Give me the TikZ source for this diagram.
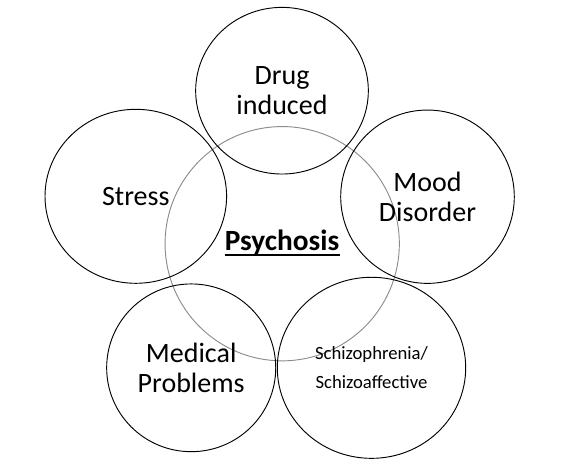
\documentclass[tikz,border=0pt]{standalone}
\usepackage{fontspec}
\setmainfont{Carlito}
\usetikzlibrary{shapes.geometric}
\begin{document}
\begin{tikzpicture}[x=0.75pt,y=-0.75pt,
    ring/.style={draw, ellipse, line width=0.7pt, inner sep=0pt, align=center,
        font=\fontsize{21}{22.5}\selectfont}]
    \useasboundingbox (0,0) rectangle (561,465);
    \node[ring, draw=black!45, minimum width=175.7pt, minimum height=175.7pt] (core) at (282.2,243.7) {};
    \node[ring, minimum width=129.5pt, minimum height=125pt] (drug) at (282,90.7) {Drug\\induced};
    \node[ring, minimum width=136.2pt, minimum height=130.5pt] (stress) at (135.8,196.3) {Stress};
    \node[ring, minimum width=130.2pt, minimum height=130pt] (mood) at (427.5,196.7) {Mood\\Disorder};
    \node[ring, minimum width=126.8pt, minimum height=125.8pt] (medical) at (191.2,367.8) {Medical\\Problems};
    \node[ring, minimum width=141.3pt, minimum height=135.8pt,
        font=\fontsize{14}{22}\selectfont] (schizo) at (371.5,367.8) {Schizophrenia/\\Schizoaffective};
    \node[inner sep=0pt, font=\fontsize{22}{24}\selectfont\bfseries] (psy) at (282,243) {Psychosis};
    \draw[line width=1.5pt] ([yshift=-2.8pt]psy.base west) -- ([yshift=-2.8pt]psy.base east);
\end{tikzpicture}
\end{document}
